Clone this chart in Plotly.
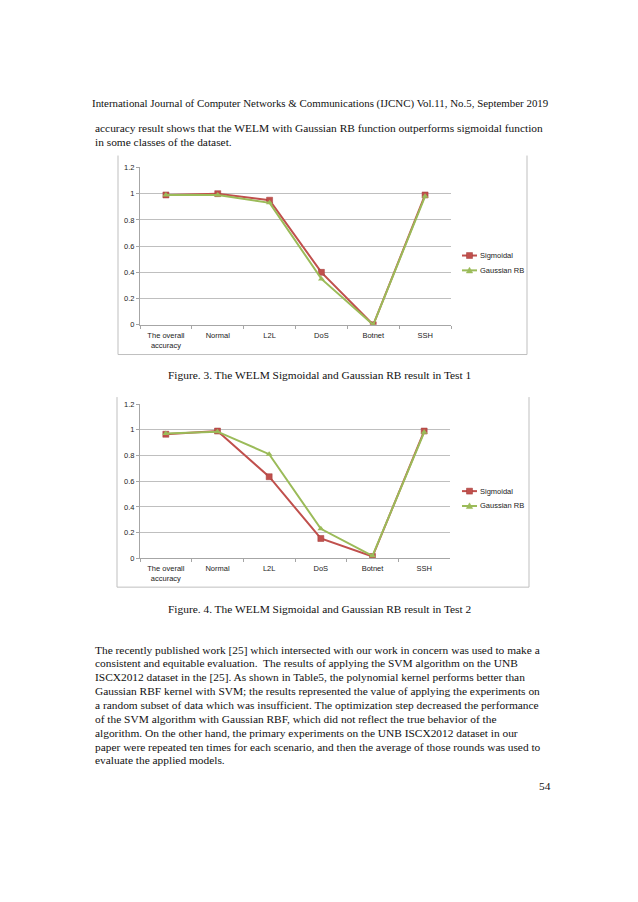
import plotly.graph_objects as go

W, H = 638, 902
OFF = 8  # default page body margin of the written html

categories = ["The overall<br>accuracy", "Normal", "L2L", "DoS", "Botnet", "SSH"]
test1_sigmoidal = [0.99, 1.0, 0.95, 0.40, 0.0, 0.99]
test1_gaussian = [0.99, 0.99, 0.93, 0.35, 0.0, 0.98]
test2_sigmoidal = [0.965, 0.99, 0.635, 0.155, 0.015, 0.99]
test2_gaussian = [0.97, 0.985, 0.81, 0.23, 0.02, 0.98]
y_ticks = [0, 0.2, 0.4, 0.6, 0.8, 1, 1.2]
series_names = ["Sigmoidal", "Gaussian RB"]

header = "International Journal of Computer Networks &amp; Communications (IJCNC) Vol.11, No.5, September 2019"
intro_lines = [
    "accuracy result shows that the WELM with Gaussian RB function outperforms sigmoidal function",
    "in some classes of the dataset.",
]
caption1 = "Figure. 3. The WELM Sigmoidal and Gaussian RB result in Test 1"
caption2 = "Figure. 4. The WELM Sigmoidal and Gaussian RB result in Test 2"
body_lines = [
    "The recently published work [25] which intersected with our work in concern was used to make a",
    "consistent and equitable evaluation.  The results of applying the SVM algorithm on the UNB",
    "ISCX2012 dataset in the [25]. As shown in Table5, the polynomial kernel performs better than",
    "Gaussian RBF kernel with SVM; the results represented the value of applying the experiments on",
    "a random subset of data which was insufficient. The optimization step decreased the performance",
    "of the SVM algorithm with Gaussian RBF, which did not reflect the true behavior of the",
    "algorithm. On the other hand, the primary experiments on the UNB ISCX2012 dataset in our",
    "paper were repeated ten times for each scenario, and then the average of those rounds was used to",
    "evaluate the applied models.",
]
page_number = "54"

RED = "#C0504D"
RED_EDGE = "#A33B38"
GREEN = "#9BBB59"
GRID = "#BFBFBF"
AXIS = "#A6A6A6"
CHART_FONT = dict(family="Liberation Sans, Arial, sans-serif", size=7.5, color="#222222")
SERIF = "Liberation Serif, Times New Roman, serif"
TEXT_COLOR = "#111111"

FW, FH = W - OFF, H - OFF


def px(x):
    return (x - OFF) / FW


def py(y):
    return 1 - (y - OFF) / FH


fig = go.Figure()

charts = [
    dict(sig=test1_sigmoidal, gau=test1_gaussian,
         plot=(140, 451, 165, 324), frame=(118, 527, 153, 354), legy=(254, 269)),
    dict(sig=test2_sigmoidal, gau=test2_gaussian,
         plot=(140, 450, 404, 560), frame=(117, 529, 397, 589), legy=(492, 507)),
]

shapes = []
annotations = []
for i, c in enumerate(charts):
    sfx = "" if i == 0 else "2"
    fig.add_trace(go.Scatter(
        x=categories, y=c["sig"], name=series_names[0], mode="lines+markers",
        line=dict(color=RED, width=2),
        marker=dict(symbol="square", size=6, color=RED, line=dict(color=RED_EDGE, width=0.5)),
        xaxis="x" + sfx, yaxis="y" + sfx, showlegend=False))
    fig.add_trace(go.Scatter(
        x=categories, y=c["gau"], name=series_names[1], mode="lines+markers",
        line=dict(color=GREEN, width=2), marker=dict(symbol="triangle-up", size=6, color=GREEN),
        xaxis="x" + sfx, yaxis="y" + sfx, showlegend=False))
    x0, x1, y0, y1 = c["plot"]
    fig.layout["xaxis" + sfx] = dict(
        domain=[px(x0), px(x1)], anchor="y" + sfx, type="category",
        range=[-0.5, 5.5], showgrid=False, showline=True, linecolor=AXIS, linewidth=1,
        ticks="outside", tickson="boundaries", ticklen=3, tickcolor=AXIS,
        ticklabelstandoff=3, tickfont=CHART_FONT, fixedrange=True)
    fig.layout["yaxis" + sfx] = dict(
        domain=[py(y1), py(y0)], anchor="x" + sfx, range=[0, 1.2],
        tickvals=y_ticks, showgrid=True, gridcolor=GRID, gridwidth=1,
        showline=True, linecolor=AXIS, linewidth=1, zeroline=False,
        ticks="outside", ticklen=3, tickcolor=AXIS, tickfont=CHART_FONT, fixedrange=True)
    fx0, fx1, fy0, fy1 = c["frame"]
    for (a, b, cc, d) in [(fx0, fy0, fx0, fy1), (fx1, fy0, fx1, fy1), (fx0, fy1, fx1, fy1)]:
        shapes.append(dict(type="line", xref="paper", yref="paper",
                           x0=px(a), y0=py(b), x1=px(cc), y1=py(d),
                           line=dict(color="#BFBFBF", width=1)))
    # legend (drawn by hand to match the short legend keys)
    lx0, lx1 = 462, 477
    mx = (lx0 + lx1) / 2
    for name, ly, col in [(series_names[0], c["legy"][0], RED), (series_names[1], c["legy"][1], GREEN)]:
        shapes.append(dict(type="line", xref="paper", yref="paper",
                           x0=px(lx0), y0=py(ly), x1=px(lx1), y1=py(ly),
                           line=dict(color=col, width=2)))
        if col == RED:
            shapes.append(dict(type="rect", xref="paper", yref="paper",
                               x0=px(mx - 3), y0=py(ly + 3), x1=px(mx + 3), y1=py(ly - 3),
                               fillcolor=RED, line=dict(color=RED_EDGE, width=0.5)))
        else:
            path = "M {} {} L {} {} L {} {} Z".format(
                px(mx - 3.2), py(ly + 2.6), px(mx + 3.2), py(ly + 2.6), px(mx), py(ly - 3.2))
            shapes.append(dict(type="path", xref="paper", yref="paper", path=path,
                               fillcolor=GREEN, line=dict(color=GREEN, width=0.5)))
        annotations.append(dict(text=name, x=px(478), y=py(ly), xref="paper", yref="paper",
                                showarrow=False, xanchor="left", yanchor="middle",
                                font=CHART_FONT))

annotations.append(dict(text=header, x=px(320), y=py(100), xref="paper", yref="paper",
                        showarrow=False, xanchor="center", yanchor="middle",
                        font=dict(family=SERIF, size=10.9, color=TEXT_COLOR)))
for k, line in enumerate(intro_lines):
    annotations.append(dict(text=line, x=px(93), y=py(125 + 14 * k), xref="paper", yref="paper",
                            showarrow=False, xanchor="left", yanchor="middle",
                            font=dict(family=SERIF, size=11.4, color=TEXT_COLOR)))
for cap, yy in [(caption1, 375), (caption2, 611)]:
    annotations.append(dict(text=cap, x=px(320), y=py(yy), xref="paper", yref="paper",
                            showarrow=False, xanchor="center", yanchor="middle",
                            font=dict(family=SERIF, size=11.4, color=TEXT_COLOR)))
for k, line in enumerate(body_lines):
    annotations.append(dict(text=line, x=px(93), y=py(652 + 14 * k), xref="paper", yref="paper",
                            showarrow=False, xanchor="left", yanchor="middle",
                            font=dict(family=SERIF, size=11.4, color=TEXT_COLOR)))
annotations.append(dict(text=page_number, x=px(553), y=py(790), xref="paper", yref="paper",
                        showarrow=False, xanchor="right", yanchor="middle",
                        font=dict(family=SERIF, size=11.4, color=TEXT_COLOR)))

fig.update_layout(
    width=FW, height=FH, margin=dict(l=0, r=0, t=0, b=0),
    paper_bgcolor="white", plot_bgcolor="white",
    shapes=shapes, annotations=annotations, showlegend=False,
)

fig.write_html("out.html", config={"displayModeBar": False})
